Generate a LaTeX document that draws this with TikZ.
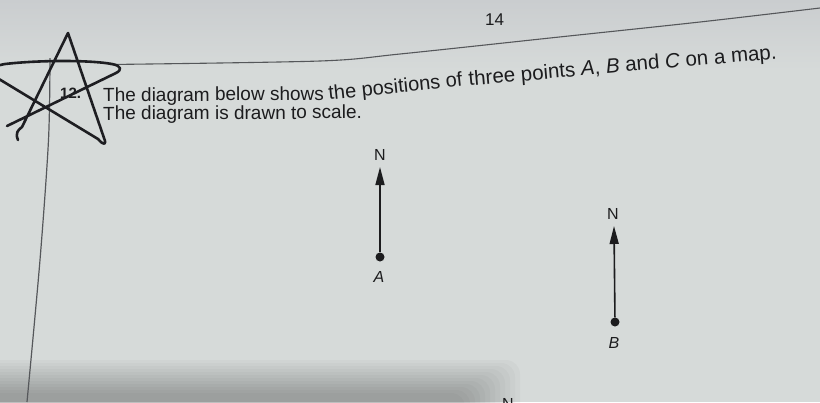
\documentclass[tikz,border=0pt]{standalone}
\usepackage{fontspec}
\setmainfont{Liberation Sans}
\usetikzlibrary{arrows.meta}
\definecolor{paper}{RGB}{214,218,217}
\definecolor{papertop}{RGB}{202,205,207}
\definecolor{ink}{RGB}{28,28,30}
\definecolor{pen}{RGB}{30,30,34}
\definecolor{rulecol}{RGB}{85,87,90}
\begin{document}
\begin{tikzpicture}[x=1pt,y=-1pt,
  txt/.style={inner sep=0pt, anchor=base west, text=ink},
  lbl/.style={inner sep=0pt, text=ink, font=\fontsize{16}{18}\selectfont},
  ptdot/.style={circle, fill=ink, inner sep=0pt, minimum size=9pt},
  northarrow/.style={draw=ink, line width=1.6pt, -{Triangle[length=18pt,width=9pt]}},
  penline/.style={draw=pen, line width=2.6pt, line cap=round, line join=round},
  ]
\useasboundingbox (0,0) rectangle (820,402);
\clip (0,0) rectangle (820,402);
% paper
\fill[paper] (0,0) rectangle (820,402);
\shade[top color=papertop, bottom color=paper] (0,0) rectangle (820,70);
\foreach \i in {0,...,11}
  \fill[black, opacity=0.022, rounded corners=14pt] (-20,{360+\i*3}) rectangle ({520-\i*5},420);
% page header rule and margin line
\draw[rulecol, line width=1.1pt] plot[smooth] coordinates {(110,64.5) (320,61) (400,54) (550,38) (700,22) (820,8)};
\draw[rulecol, line width=1.2pt] plot[smooth] coordinates {(50,58) (48.5,140) (40,260) (27,402)};
% page number
\node[txt, font=\fontsize{17}{20}\selectfont] (pagenum) at (485,25) {14};
% question text
\node[txt, font=\fontsize{15}{18}\selectfont\bfseries] (qnum) at (60,98) {12.};
\node[txt, font=\fontsize{19}{22}\selectfont, rotate=0.3] (line1a) at (103,101.5) {The diagram below shows};
\node[txt, font=\fontsize{20}{22}\selectfont, rotate=6] (line1b) at (329,100) {the positions of};
\node[txt, font=\fontsize{20.5}{22}\selectfont, rotate=5] (line1c) at (469,85.6) {three points \textit{A}, \textit{B} and \textit{C} on a map.};
\node[txt, font=\fontsize{19}{22}\selectfont, rotate=0.3] (line2) at (103,120) {The diagram is drawn to scale.};
% hand-drawn star
\draw[penline] (18,140) .. controls (15,133) and (18,130) .. (22,127) -- (68,33) -- (104,138)
  .. controls (107,145) and (104,146) .. (98,139) -- (-6,76)
  .. controls (-12,72) and (-8,66) .. (5,64) .. controls (40,60) and (90,60) .. (112,64)
  .. controls (122,66) and (122,70) .. (116,73) -- (7,126);
% point A
\node[ptdot] (dotA) at (380,257) {};
\coordinate (tipA) at (380,167);
\node[lbl] (NA) at (380,155) {N};
\node[lbl, font=\fontsize{16}{18}\selectfont\itshape] (labA) at (379,277) {A};
\draw[northarrow] (dotA) -- (tipA);
% point B
\node[ptdot] (dotB) at (615,322) {};
\coordinate (tipB) at (614,226);
\node[lbl] (NB) at (613,214) {N};
\node[lbl, font=\fontsize{16}{18}\selectfont\itshape] (labB) at (614,343) {B};
\draw[northarrow] (dotB) -- (tipB);
% partly visible N at the lower edge
\node[lbl] (NC) at (508,404) {N};
\end{tikzpicture}
\end{document}
